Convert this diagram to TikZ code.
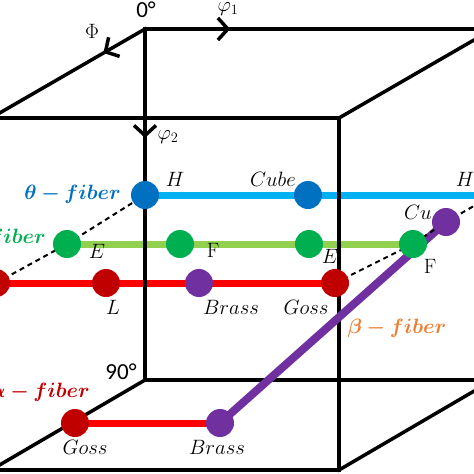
\documentclass[tikz,border=0pt]{standalone}
\usepackage{fontspec}
\newfontfamily\carl{Carlito}
\usepackage{bm}
\usetikzlibrary{arrows.meta,decorations.markings}
\definecolor{nblue}{HTML}{0070C0}
\definecolor{lblue}{HTML}{00B0F0}
\definecolor{ngreen}{HTML}{00B050}
\definecolor{lgreen}{HTML}{92D050}
\definecolor{nred}{HTML}{C00000}
\definecolor{lred}{HTML}{FF0000}
\definecolor{purp}{HTML}{7030A0}
\definecolor{orng}{HTML}{ED7D31}
\tikzset{
  edge/.style={line width=3.5pt, line cap=rect},
  dot/.style={circle, inner sep=0pt, minimum size=28pt},
  lbl/.style={font=\huge, inner sep=0pt},
  deg/.style={font=\carl\fontsize{23}{27}\selectfont, inner sep=0pt},
  fib/.style={line width=7pt},
  dashl/.style={line width=2pt, dash pattern=on 5pt off 4pt},
  midarrow/.style={postaction={decorate},decoration={markings, mark=at position #1 with {\arrow{Straight Barb[length=10pt,width=22pt,line width=3.5pt]}}}}
}
\begin{document}
\begin{tikzpicture}[x=1pt,y=-1pt]
\useasboundingbox (0,0) rectangle (474,474);
\clip (0,0) rectangle (474,474);
\fill[white] (0,0) rectangle (474,474);
% cube corners
\coordinate (BTL) at (145,29);
\coordinate (BTR) at (493,29);
\coordinate (BBL) at (145,380);
\coordinate (BBR) at (493,380);
\coordinate (FTL) at (-9,118);
\coordinate (FTR) at (339,118);
\coordinate (FBL) at (-9,470);
\coordinate (FBR) at (339,470);
% fiber points
\coordinate (H1) at (145,195);
\coordinate (Cb) at (308,195);
\coordinate (H2) at (493,195);
\coordinate (E1) at (67,244);
\coordinate (F1) at (180,244);
\coordinate (E2) at (309,244);
\coordinate (F2) at (413,244);
\coordinate (R0) at (-4,283);
\coordinate (L) at (106,283);
\coordinate (Br1) at (199,283);
\coordinate (Go1) at (335,283);
\coordinate (Cu) at (446,222);
\coordinate (Go2) at (75,423);
\coordinate (Br2) at (220,423);
% fiber lines
\draw[fib,lblue] (H1) -- (H2);
\draw[fib,lgreen] (E1) -- (F2);
\draw[fib,lred] (R0) -- (Go1);
\draw[fib,lred] (Go2) -- (Br2);
% cube
\draw[edge,midarrow=0.245] (BTL) -- (BTR);
\draw[edge,midarrow=0.27] (BTL) -- (FTL);
\draw[edge,midarrow=0.31] (BTL) -- (BBL);
\draw[edge] (BTR) -- (FTR);
\draw[edge] (FTL) -- (FTR);
\draw[edge] (FTR) -- (FBR);
\draw[edge] (FBL) -- (FBR);
\draw[edge] (BBL) -- (FBL);
\draw[edge] (BBR) -- (FBR);
\draw[edge] (BBL) -- (BBR);
\draw[edge] (FTL) -- (FBL);
\draw[edge] (BTR) -- (BBR);
% beta fiber and dashed
\draw[line width=8pt,purp] (Br2) -- (Cu);
\draw[dashl] (R0) -- (E1) -- (H1);
\draw[dashl] (Go1) -- (F2) -- (Cu) -- (H2);
% nodes
\node[dot,fill=nblue] (nH1) at (H1) {};
\node[dot,fill=nblue] (nCb) at (Cb) {};
\node[dot,fill=ngreen] (nE1) at (E1) {};
\node[dot,fill=ngreen] (nF1) at (F1) {};
\node[dot,fill=ngreen] (nE2) at (E2) {};
\node[dot,fill=ngreen] (nF2) at (F2) {};
\node[dot,fill=nred] (nR0) at (R0) {};
\node[dot,fill=nred] (nL) at (L) {};
\node[dot,fill=purp] (nBr1) at (Br1) {};
\node[dot,fill=nred] (nGo1) at (Go1) {};
\node[dot,fill=purp] (nCu) at (Cu) {};
\node[dot,fill=nred] (nGo2) at (Go2) {};
\node[dot,fill=purp] (nBr2) at (Br2) {};
% labels
\node[deg] (t0) at (146,10) {0°};
\node[deg] (t90) at (121,372) {90°};
\node[lbl,anchor=north] (tp1) at (228,2.5) {$\varphi_1$};
\node[lbl] (tPhi) at (92,31) {$\Phi$};
\node[lbl] (tp2) at (168,137) {$\varphi_2$};
\node[lbl] (tH1) at (175,179) {$H$};
\node[lbl] (tCb) at (273,179) {$Cube$};
\node[lbl] (tH2) at (465,179) {$H$};
\node[lbl,anchor=east,text=nblue] (tth) at (121,194) {$\bm{\theta - fiber}$};
\node[lbl,anchor=east,text=ngreen] (tga) at (46,238) {$\bm{\gamma - fiber}$};
\node[lbl] (tE1) at (97,251) {$E$};
\node[lbl] (tF1) at (213,250) {F};
\node[lbl] (tE2) at (330,256) {$E$};
\node[lbl] (tF2) at (430,266) {F};
\node[lbl] (tCu) at (418,212) {$Cu$};
\node[lbl] (tL) at (113,307) {$L$};
\node[lbl] (tBr1) at (231,307) {$Brass$};
\node[lbl] (tGo1) at (306,307) {$Goss$};
\node[lbl,text=orng] (tbe) at (397,328) {$\bm{\beta - fiber}$};
\node[lbl,anchor=east,text=nred] (tal) at (90,392) {$\bm{\alpha - fiber}$};
\node[lbl] (tGo2) at (85,447) {$Goss$};
\node[lbl] (tBr2) at (217,447) {$Brass$};
\end{tikzpicture}
\end{document}
